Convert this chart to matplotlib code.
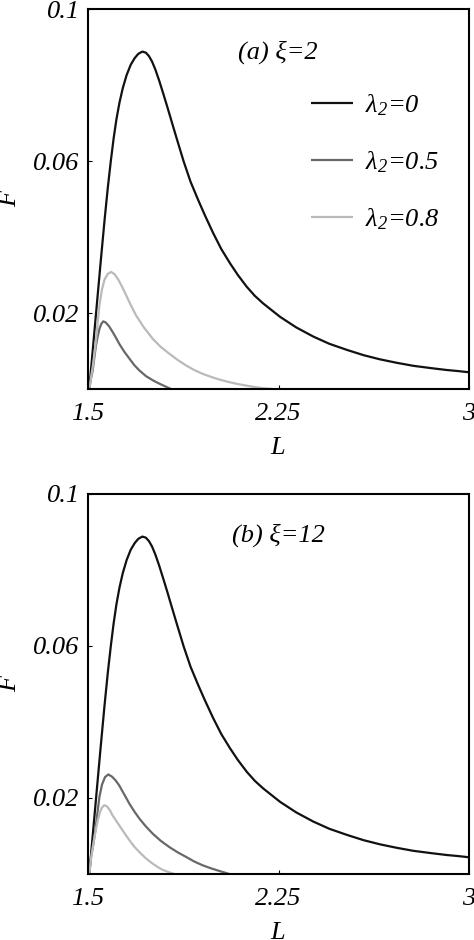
import matplotlib
matplotlib.use("Agg")
import matplotlib.pyplot as plt

# ---- data ----
L_black = [1.505, 1.52, 1.535, 1.55, 1.565, 1.578, 1.590, 1.601, 1.612, 1.624, 1.637, 1.652,
           1.668, 1.684, 1.698, 1.714, 1.728, 1.740, 1.752, 1.765, 1.780, 1.796, 1.812, 1.831,
           1.852, 1.877, 1.904, 1.934, 1.961, 1.993, 2.025, 2.059, 2.09, 2.125, 2.157, 2.19,
           2.256, 2.32, 2.387, 2.45, 2.519, 2.585, 2.65, 2.715, 2.781, 2.85, 2.912, 2.96, 3.0]
F_black = [0.0, 0.0112, 0.0224, 0.0335, 0.0443, 0.0530, 0.0601, 0.0660, 0.0710, 0.0754, 0.0792, 0.0826,
           0.0853, 0.0871, 0.0882, 0.0888, 0.0885, 0.0876, 0.0862, 0.0841, 0.0812, 0.0778, 0.0743, 0.0700,
           0.0653, 0.0598, 0.0545, 0.0497, 0.0456, 0.0410, 0.0368, 0.0331, 0.0300, 0.0269, 0.0245, 0.0225,
           0.0190, 0.0162, 0.0138, 0.0119, 0.0103, 0.0089, 0.0078, 0.0069, 0.0061, 0.0055, 0.0050, 0.0047,
           0.0044]

# panel (a) xi = 2
L_a05 = [1.505, 1.512, 1.518, 1.525, 1.531, 1.538, 1.545, 1.552, 1.56, 1.57, 1.583, 1.597, 1.61,
         1.623, 1.643, 1.663, 1.682, 1.702, 1.728, 1.755, 1.775, 1.794, 1.81, 1.827]
F_a05 = [0.0, 0.0028, 0.0047, 0.0083, 0.0113, 0.0138, 0.0158, 0.0171, 0.0178, 0.0175, 0.0165,
         0.0150, 0.0135, 0.0119, 0.0098, 0.0080, 0.0063, 0.0049, 0.0034, 0.0023, 0.0016, 0.0010,
         0.0005, 0.0]
L_a08 = [1.505, 1.512, 1.52, 1.531, 1.538, 1.545, 1.555, 1.565, 1.578, 1.591, 1.605, 1.62, 1.635,
         1.650, 1.669, 1.689, 1.72, 1.755, 1.786, 1.820, 1.852, 1.886, 1.918, 1.951, 1.984, 2.017,
         2.05, 2.083, 2.115, 2.148, 2.19, 2.227]
F_a08 = [0.0, 0.003, 0.0065, 0.0125, 0.0175, 0.0220, 0.0262, 0.0288, 0.0303, 0.0308, 0.0302,
         0.0287, 0.0268, 0.0247, 0.0220, 0.0194, 0.0162, 0.0132, 0.0111, 0.0093, 0.0077, 0.0062,
         0.0050, 0.0040, 0.0032, 0.0025, 0.0019, 0.0014, 0.0010, 0.0006, 0.0002, 0.0]

# panel (b) xi = 12
L_b05 = [1.505, 1.512, 1.52, 1.529, 1.537, 1.545, 1.555, 1.567, 1.580, 1.595, 1.609, 1.623, 1.643,
         1.663, 1.682, 1.702, 1.728, 1.755, 1.787, 1.820, 1.853, 1.886, 1.918, 1.951, 1.984, 2.017,
         2.037, 2.056]
F_b05 = [0.0, 0.0045, 0.0075, 0.0115, 0.0160, 0.0203, 0.0235, 0.0255, 0.0262, 0.0256, 0.0246,
         0.0233, 0.0209, 0.0185, 0.0165, 0.0146, 0.0125, 0.0106, 0.0087, 0.0071, 0.0057, 0.0045,
         0.0033, 0.0023, 0.0015, 0.0008, 0.0004, 0.0]
L_b08 = [1.505, 1.512, 1.52, 1.529, 1.538, 1.547, 1.555, 1.564, 1.575, 1.586, 1.597, 1.61, 1.623,
         1.643, 1.663, 1.682, 1.702, 1.728, 1.755, 1.775, 1.794, 1.817, 1.840]
F_b08 = [0.0, 0.004, 0.0075, 0.0110, 0.0140, 0.0162, 0.0175, 0.0181, 0.0178, 0.0168, 0.0154,
         0.0141, 0.0128, 0.0108, 0.0089, 0.0072, 0.0058, 0.0041, 0.0027, 0.0018, 0.0011, 0.0005, 0.0]

labels = ["λ$_2$=0", "λ$_2$=0.5", "λ$_2$=0.8"]
colors = ["#111111", "#686868", "#bababa"]
panel_titles = ["(a) ξ=2", "(b) ξ=12"]
x_ticks = [1.5, 2.25, 3]
x_ticklabels = ["1.5", "2.25", "3"]
y_ticks = [0.02, 0.06, 0.1]
y_ticklabels = ["0.02", "0.06", "0.1"]

plt.rcParams["font.family"] = ["Liberation Serif", "DejaVu Serif"]
plt.rcParams["font.style"] = "italic"
plt.rcParams["mathtext.fontset"] = "custom"
plt.rcParams["mathtext.rm"] = "Liberation Serif:italic"
plt.rcParams["mathtext.it"] = "Liberation Serif:italic"
FS = 19

fig = plt.figure(figsize=(4.74, 9.40), dpi=100)
ax_a = fig.add_axes([88/474, 1 - 389/940, 381/474, 380/940])
ax_b = fig.add_axes([88/474, 1 - 874/940, 381/474, 380/940])

series = [
    [(L_black, F_black), (L_a05, F_a05), (L_a08, F_a08)],
    [(L_black, F_black), (L_b05, F_b05), (L_b08, F_b08)],
]

for i, ax in enumerate([ax_a, ax_b]):
    for (Lx, Fy), c, lab in zip(series[i], colors, labels):
        ax.plot(Lx, Fy, color=c, lw=1.6, label=lab, solid_capstyle="butt",
                solid_joinstyle="round")
    ax.set_xlim(1.5, 3)
    ax.set_ylim(0, 0.1)
    ax.set_xticks(x_ticks)
    ax.set_xticklabels(x_ticklabels)
    ax.set_yticks(y_ticks)
    ax.set_yticklabels(y_ticklabels)
    ax.tick_params(direction="in", length=3, width=0.8, labelsize=FS,
                   top=False, right=False)
    ax.tick_params(axis="x", pad=10)
    ax.tick_params(axis="y", pad=6)
    for s in ax.spines.values():
        s.set_linewidth(1.5)
    ax.set_xlabel("L", fontsize=FS)
    ax.set_ylabel("F", fontsize=FS)
    ax.xaxis.set_label_coords(0.499, -0.127)
    ax.yaxis.set_label_coords(-0.175, 0.5)
    ax.text(0.499, 0.887 if i == 0 else 0.892, panel_titles[i], transform=ax.transAxes,
            ha="center", va="center", fontsize=FS)

ax_a.legend(loc="upper left", bbox_to_anchor=(0.585, 0.78), frameon=False, fontsize=FS,
            handlelength=1.6, handletextpad=0.45, labelspacing=1.18, borderpad=0,
            borderaxespad=0)

fig.savefig("out.png", dpi=100)
